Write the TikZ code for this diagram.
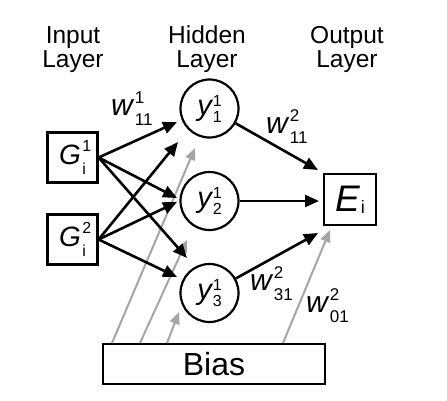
\documentclass[tikz,border=0pt]{standalone}
\usepackage{fontspec}
\setmainfont{Liberation Sans}
\usetikzlibrary{arrows.meta}
\definecolor{biasgray}{RGB}{165,165,165}
\newcommand\fs[1]{\fontsize{#1}{#1}\selectfont}
\newcommand\wlab[2]{{\fs{30}\itshape w}\kern2pt\rlap{\raisebox{12pt}{\fs{17}#1}}\raisebox{-10pt}{\fs{17}#2}}
\newcommand\ylab[2]{{\fs{29}\itshape y}\kern1pt\rlap{\raisebox{9pt}{\fs{16}#1}}\raisebox{-7pt}{\fs{16}#2}}
\newcommand\glab[2]{{\fs{28}\itshape G}\kern1.5pt\rlap{\raisebox{13pt}{\fs{16}#1}}\raisebox{-10pt}{\fs{16}#2}}
\begin{document}
\begin{tikzpicture}[x=1pt,y=-1pt,
  title/.style={align=center, inner sep=0pt, font=\fontsize{24.5}{24}\selectfont},
  inbox/.style={draw, line width=2.2pt, minimum width=50pt, minimum height=50pt, inner sep=0pt},
  outbox/.style={draw, line width=2.2pt, minimum width=52pt, minimum height=51pt, inner sep=0pt},
  neuron/.style={draw, circle, line width=2.2pt, minimum size=58pt, inner sep=0pt},
  biasbox/.style={draw, line width=1.8pt, minimum width=222pt, minimum height=40pt, inner sep=0pt, font=\fs{32}},
  conn/.style={line width=2.6pt, -{Triangle[length=14pt,width=12pt]}},
  bconn/.style={line width=2pt, draw=biasgray, -{Triangle[length=12pt,width=10pt]}, fill=biasgray},
  wl/.style={anchor=base west, inner sep=0pt}]
\useasboundingbox (0,0) rectangle (447,400);
% titles
\node[title, anchor=north] (tin) at (73,26) {Input\\Layer};
\node[title, anchor=north] (thid) at (207,26) {Hidden\\Layer};
\node[title, anchor=north] (tout) at (347,26) {Output\\Layer};
% nodes
\node[inbox] (g1) at (72.5,157.5) {\glab{1}{i}};
\node[inbox] (g2) at (72.5,239.5) {\glab{2}{i}};
\node[neuron] (y1) at (209.5,108.5) {\ylab{1}{1}};
\node[neuron] (y2) at (209.5,201) {\ylab{1}{2}};
\node[neuron] (y3) at (209.5,293) {\ylab{1}{3}};
\node[outbox] (e) at (350,199.5) {{\fs{37}\itshape E}\kern1pt\raisebox{-2pt}{\fs{18}i}};
\node[biasbox] (bias) at (214,364) {Bias};
% arrow tip coordinates
\coordinate (t11) at (177,122);
\coordinate (t12) at (177,198);
\coordinate (t13) at (187,258);
\coordinate (t21) at (178,142);
\coordinate (t22) at (177,202);
\coordinate (t23) at (177,277);
\coordinate (te1) at (318,170);
\coordinate (te2) at (319,201);
\coordinate (te3) at (318,233);
\coordinate (b1) at (112,343);
\coordinate (b2) at (140,343);
\coordinate (b3) at (167,343);
\coordinate (b4) at (283,343);
\coordinate (tb1) at (195,148);
\coordinate (tb2) at (187,240);
\coordinate (tb3) at (179,312);
\coordinate (tb4) at (330,230);
% bias connectors
\draw[bconn] (b1) -- (tb1);
\draw[bconn] (b2) -- (tb2);
\draw[bconn] (b3) -- (tb3);
\draw[bconn] (b4) -- (tb4);
% input to hidden
\draw[conn] (g1.east) -- (t11);
\draw[conn] (g1.east) -- (t12);
\draw[conn] (g1.east) -- (t13);
\draw[conn] (g2.east) -- (t21);
\draw[conn] (g2.east) -- (t22);
\draw[conn] (g2.east) -- (t23);
% hidden to output
\draw[conn] (y1) -- (te1);
\draw[conn] (y2) -- (te2);
\draw[conn] (y3) -- (te3);
% weight labels
\node[wl] (w111) at (111,115) {\wlab{1}{11}};
\node[wl] (w211) at (266,133) {\wlab{2}{11}};
\node[wl] (w231) at (250,290) {\wlab{2}{31}};
\node[wl] (w201) at (306,312) {\wlab{2}{01}};
\end{tikzpicture}
\end{document}
